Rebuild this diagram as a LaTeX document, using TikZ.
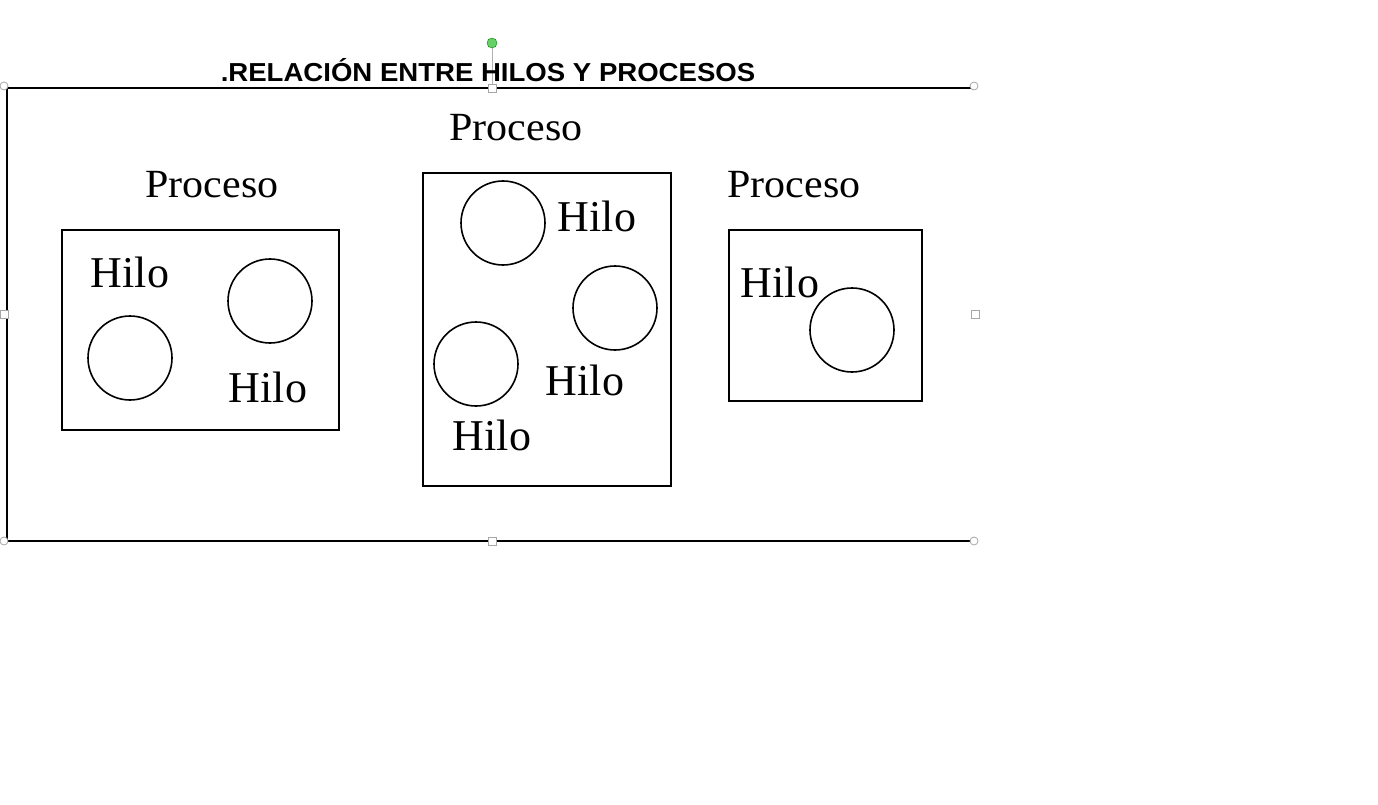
\documentclass[tikz,border=0pt]{standalone}
\usepackage{fontspec}
\setmainfont{Liberation Serif}
\newfontfamily\titlefont{Liberation Sans}
\begin{document}
\begin{tikzpicture}[x=1pt,y=-1pt,
  box/.style={draw,line width=2.2pt},
  thread/.style={draw,line width=1.6pt,circle,minimum size=84pt,inner sep=0pt},
  hilo/.style={font=\fontsize{44}{44}\selectfont},
  proc/.style={font=\fontsize{40}{40}\selectfont,xscale=1.05},
  handle/.style={draw=gray!70,fill=white,line width=0.8pt}]
\useasboundingbox (0,0) rectangle (1378,805);
% frame
\draw[line width=1.4pt] (975,88) -- (7,88) -- (7,541) -- (975,541);
\draw[gray!60,line width=0.8pt] (492,44) -- (492,88);
\node[circle,fill=green!70!black!60,draw=green!50!black,inner sep=0pt,minimum size=10pt] (rot) at (492,43) {};
\foreach \p in {(4,86),(974,86),(4,541),(974,541)} \draw[handle] \p circle (4pt);
\foreach \p in {(492,88),(4,314),(975,314),(492,541)} \draw[handle] \p ++(-4,-4) rectangle ++(8,8);
\node[font=\titlefont\bfseries\fontsize{26}{26}\selectfont,xscale=1.06] (title) at (488,70) {.RELACIÓN ENTRE HILOS Y PROCESOS};
% left process
\draw[box] (62,230) rectangle (339,430);
\node[proc] (p1) at (212,185) {Proceso};
\node[thread] (c1) at (130,358) {};
\node[thread] (c2) at (270,301) {};
\node[hilo] (h1) at (130,272) {Hilo};
\node[hilo] (h2) at (268,387) {Hilo};
% middle process
\draw[box] (423,173) rectangle (671,486);
\node[proc] (p2) at (516,128) {Proceso};
\node[thread] (c3) at (503,223) {};
\node[thread] (c4) at (615,308) {};
\node[thread] (c5) at (476,364) {};
\node[hilo] (h3) at (597,216) {Hilo};
\node[hilo] (h4) at (585,380) {Hilo};
\node[hilo] (h5) at (492,435) {Hilo};
% right process
\draw[box] (729,230) rectangle (922,401);
\node[proc] (p3) at (794,185) {Proceso};
\node[thread] (c6) at (852,330) {};
\node[hilo] (h6) at (780,282) {Hilo};
\end{tikzpicture}
\end{document}
